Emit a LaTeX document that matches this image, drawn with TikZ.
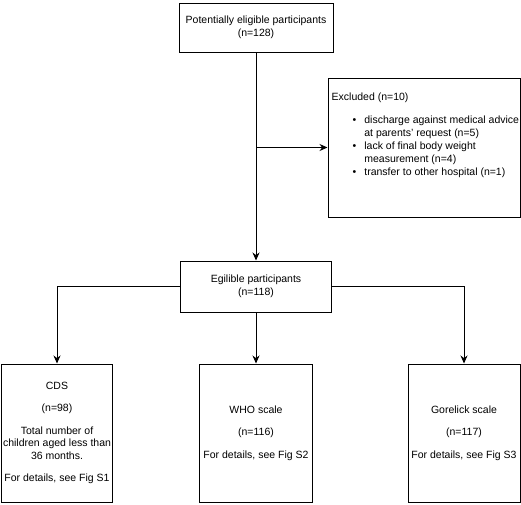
\documentclass[tikz,border=0pt]{standalone}
\usepackage{fontspec}
\setmainfont{Liberation Sans}
\usetikzlibrary{arrows.meta}
\begin{document}
\begin{tikzpicture}[x=1pt,y=-1pt,
  box/.style={draw, line width=1pt, inner sep=0pt, align=center, font=\fontsize{10.5}{12.5}\selectfont},
  txt/.style={inner sep=0pt, align=left, font=\fontsize{10.5}{13}\selectfont},
  arr/.style={line width=1pt, -{Stealth[length=8pt,width=7pt]}}]
\useasboundingbox (0,0) rectangle (521,504);
\node[box, minimum width=154pt, minimum height=49pt] (top) at (256,27.5) {Potentially eligible participants\\(n=128)};
\node[box, minimum width=192pt, minimum height=139pt] (excl) at (424,147.5) {};
\node[txt, anchor=north west] (exlabel) at ([xshift=4pt,yshift=-15pt]excl.north west) {Excluded (n=10)};
\node[txt, anchor=north west] (exlist) at ([xshift=21pt,yshift=-12pt]exlabel.south west)
  {\begin{tabular}{@{}l@{\hspace{8pt}}l@{}}
   \textbullet & discharge against medical advice\\
               & at parents' request (n=5)\\
   \textbullet & lack of final body weight\\
               & measurement (n=4)\\
   \textbullet & transfer to other hospital (n=1)
   \end{tabular}};
\node[box, minimum width=151pt, minimum height=51pt] (elig) at (256,286.5) {Egilible participants\\(n=118)};
\node[box, minimum width=111pt, minimum height=138pt] (cds) at (57,433) {CDS\\[10pt](n=98)\\[10pt]Total number of\\children aged less than\\36 months.\\[10pt]For details, see Fig S1};
\node[box, minimum width=113pt, minimum height=138pt] (who) at (256,433) {WHO scale\\[10pt](n=116)\\[10pt]For details, see Fig S2};
\node[box, minimum width=112pt, minimum height=138pt] (gor) at (464,433) {Gorelick scale\\[10pt](n=117)\\[10pt]For details, see Fig S3};
\draw[arr] (top) -- (elig);
\draw[arr] (top.south |- excl.west) -- (excl.west);
\draw[arr] (elig.west) -| (cds.north);
\draw[arr] (elig.east) -| (gor.north);
\draw[arr] (elig) -- (who);
\end{tikzpicture}
\end{document}
